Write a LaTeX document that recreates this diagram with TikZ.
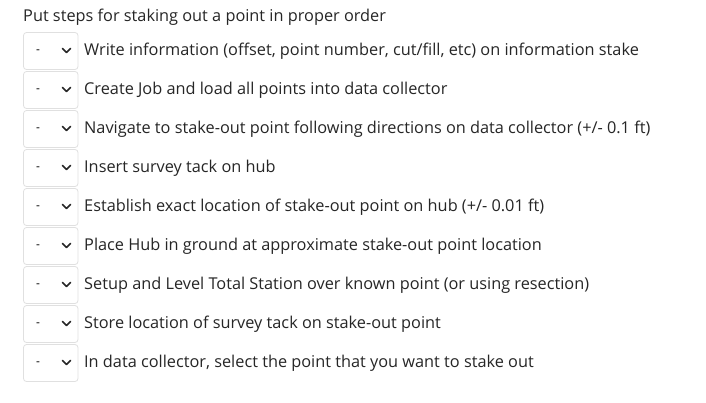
\documentclass[tikz,border=0pt]{standalone}
\usepackage{fontspec}
\setmainfont{Open Sans}
\begin{document}
\begin{tikzpicture}[x=1pt,y=-1pt,
  sel/.style={draw=black!12,rounded corners=3pt,line width=0.8pt,fill=white},
  lbl/.style={anchor=west,inner sep=0pt,font=\fontsize{16.3}{19}\selectfont,text=black!85},
  chev/.style={line width=1.7pt,line cap=round,line join=round,draw=black!85}]
\useasboundingbox (0,0) rectangle (706,402);
\fill[white] (0,0) rectangle (706,402);
\node[lbl] (title) at (23,17) {Put steps for staking out a point in proper order};
\foreach \i/\t in {0/{Write information (offset, point number, cut/fill, etc) on information stake},
1/{Create Job and load all points into data collector},
2/{Navigate to stake-out point following directions on data collector (+/- 0.1 ft)},
3/{Insert survey tack on hub},
4/{Establish exact location of stake-out point on hub (+/- 0.01 ft)},
5/{Place Hub in ground at approximate stake-out point location},
6/{Setup and Level Total Station over known point (or using resection)},
7/{Store location of survey tack on stake-out point},
8/{In data collector, select the point that you want to stake out}}{
  \pgfmathsetmacro\yc{51+39*\i}
  \draw[sel] (23.5,\yc-18.5) rectangle (78,\yc+18.5);
  \node[inner sep=0pt,font=\fontsize{12}{14}\selectfont] (d\i) at (38,\yc+1) {-};
  \draw[chev] (62.5,\yc-2.5) -- (66.5,\yc+1.5) -- (70.5,\yc-2.5);
  \node[lbl] (t\i) at (84,\yc) {\t};
}
\end{tikzpicture}
\end{document}
